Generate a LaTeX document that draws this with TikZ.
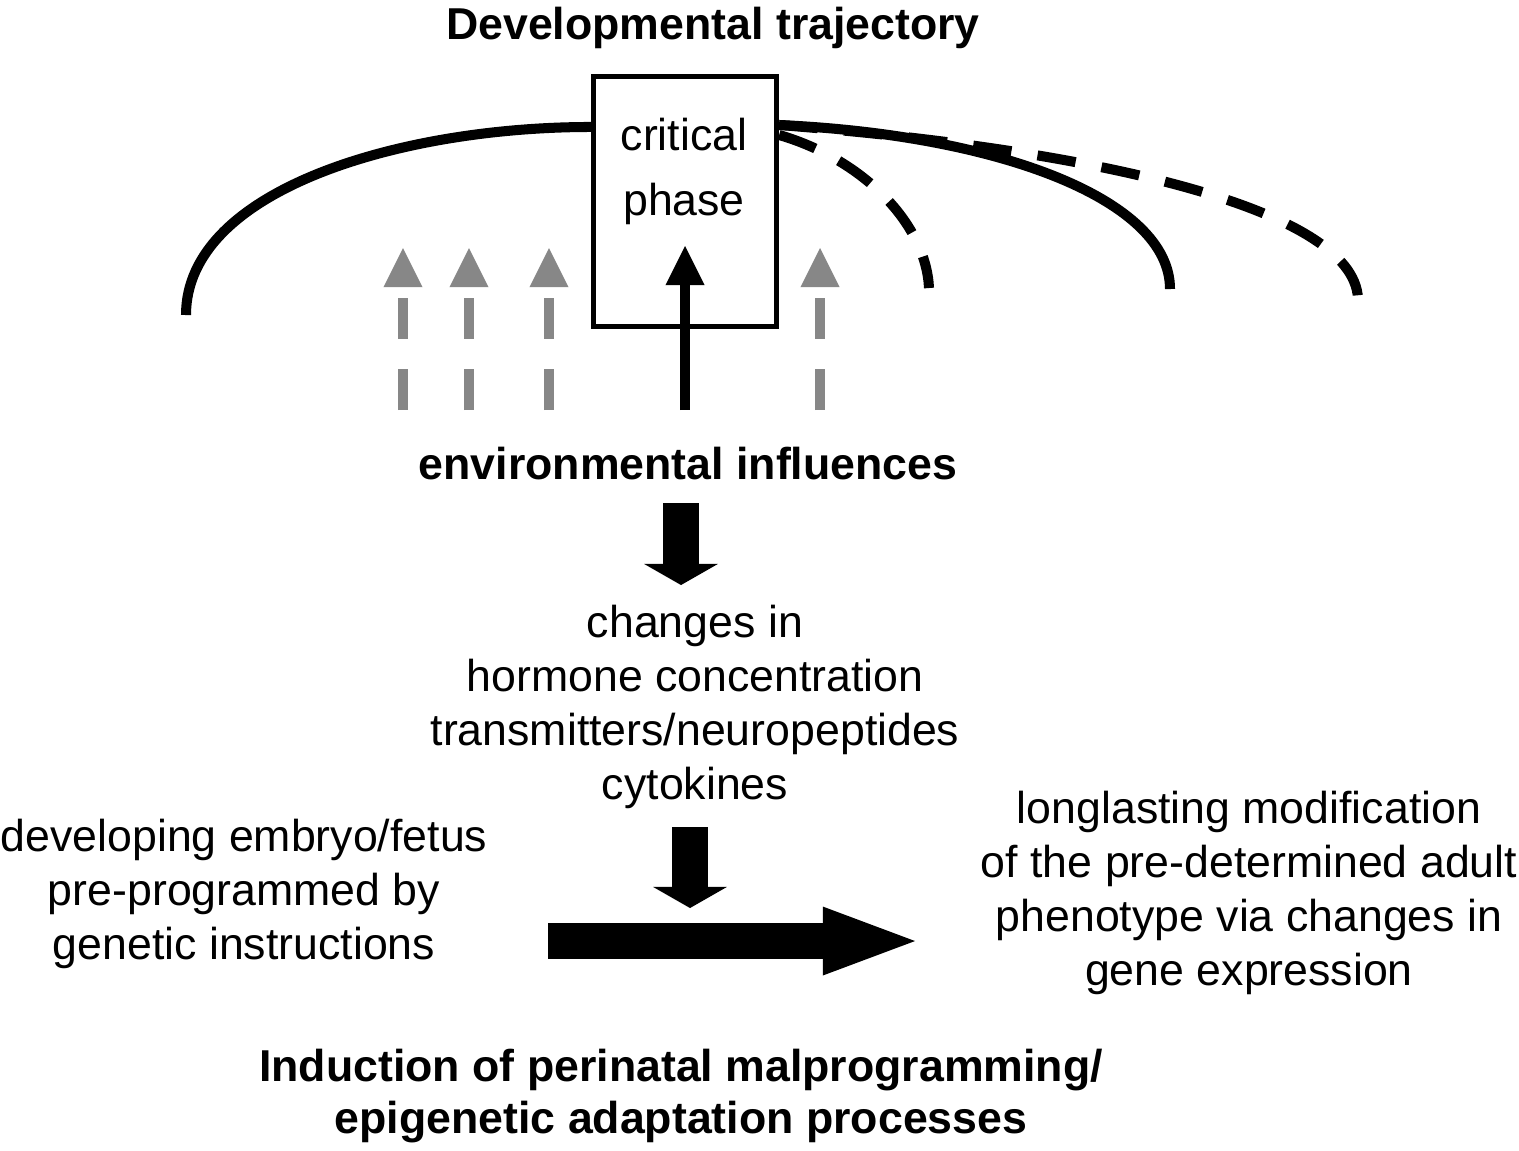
\documentclass[tikz,border=0pt]{standalone}
\usepackage{fontspec}
\setmainfont{Liberation Sans}
\usetikzlibrary{arrows.meta}
\definecolor{arrowgray}{RGB}{135,135,135}

\begin{document}
\begin{tikzpicture}[x=0.01cm, y=-0.01cm]
  \tikzstyle{txt} = [align=center, font=\fontsize{12.7}{15.4}\selectfont]
  \tikzstyle{heading} = [align=center, font=\fontsize{12.7}{14.8}\selectfont\bfseries]
  \tikzstyle{phasebox} = [rectangle, draw, line width=1.45pt, minimum width=1.83cm, minimum height=2.5cm]
  \tikzstyle{trajectory} = [line width=2.85pt]
  \tikzstyle{alternative} = [trajectory, dash pattern=on 11pt off 7.5pt]
  \tikzstyle{influence} = [line width=2.85pt, -{Triangle[width=11.1pt, length=11.1pt, line width=0pt]}]
  \tikzstyle{weak} = [influence, arrowgray, dash pattern=on 11.7pt off 8.5pt]
  \tikzstyle{blockarrow} = [line width=10.5pt, -{Triangle[width=21pt, length=6pt, line width=0pt]}]

  \useasboundingbox (0,0) rectangle (1519,1150);

  % Trajectory
  \node[heading] (title) at (713,28) {Developmental trajectory};
  \node[phasebox] (box) at (685,201.5) {};
  \node[txt] (phase) at (684,171) {critical\\[3.1pt]phase};

  \draw[trajectory] (186,315) .. controls (186,190) and (400,127) .. ([yshift=0.745cm]box.west);
  \draw[trajectory] ([yshift=0.765cm]box.east) .. controls (1000,135) and (1170,200) .. (1170,289);
  \draw[alternative] ([yshift=0.665cm]box.east) .. controls (865,160) and (926,225) .. (929,288);
  \draw[alternative] ([yshift=0.765cm]box.east) .. controls (1100,150) and (1362,210) .. (1358,303);

  % Influences
  \foreach \x/\n in {403/a, 469/b, 549/c, 820/d} {
    \coordinate (low\n) at (\x,410);
    \coordinate (high\n) at (\x,248);
    \draw[weak] (low\n) -- (high\n);
  }
  \coordinate (envtop) at (685,410);
  \coordinate (phasein) at (685,246);
  \draw[influence] (envtop) -- (phasein);

  \node[heading] (env) at (688,464) {environmental influences};
  \node[txt] (changes) at (695,707) {changes in\\hormone concentration\\transmitters/neuropeptides\\cytokines};
  \node[txt] (embryo) at (244,894) {developing embryo/fetus\\pre-programmed by\\genetic instructions};
  \node[txt] (adult) at (1249,893) {longlasting modification\\of the pre-determined adult\\phenotype via changes in\\gene expression};
  \node[heading] (induction) at (681,1096) {Induction of perinatal malprogramming/\\epigenetic adaptation processes};

  % Block arrows
  \coordinate (envout) at (681,503);
  \coordinate (changestop) at (681,585);
  \coordinate (changesout) at (690,827);
  \coordinate (mainin) at (690,908);
  \coordinate (embryoout) at (548,941);
  \coordinate (adultin) at (915,941);
  \draw[blockarrow] (envout) -- (changestop);
  \draw[blockarrow] (changesout) -- (mainin);
  \draw[blockarrow, -{Triangle[width=19.6pt, length=26.2pt, line width=0pt]}] (embryoout) -- (adultin);

\end{tikzpicture}
\end{document}
